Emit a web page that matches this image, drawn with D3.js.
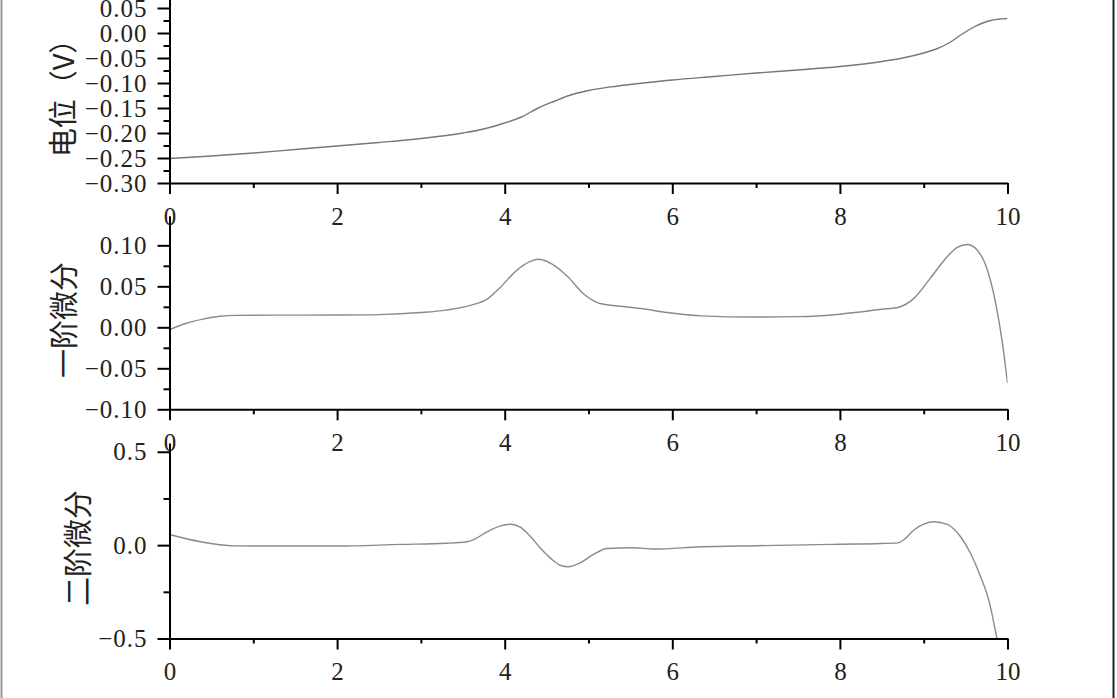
<!DOCTYPE html>
<html><head><meta charset="utf-8">
<script src="https://cdn.jsdelivr.net/npm/d3@7"></script>
<style>body{margin:0;background:#fff;} svg{display:block;}</style>
</head><body>
<svg id="c" width="1117" height="698"></svg>
<script>
// ---- data ----
const xMajorTicks = [0, 2, 4, 6, 8, 10];
const xMinorTicks = [1, 3, 5, 7, 9];

const potX = [0,0.5,1.0,1.5,2.0,2.5,3.0,3.5,3.75,4.0,4.2,4.4,4.6,4.75,5.0,5.35,6.0,6.5,7.0,7.5,8.0,8.5,8.75,9.0,9.15,9.3,9.45,9.6,9.8,10.0];
const potV = [-0.251,-0.246,-0.240,-0.233,-0.226,-0.219,-0.211,-0.200,-0.192,-0.180,-0.168,-0.150,-0.136,-0.126,-0.115,-0.106,-0.094,-0.087,-0.080,-0.074,-0.067,-0.057,-0.050,-0.040,-0.032,-0.020,-0.003,0.012,0.025,0.029];
const potMajor = [-0.30,-0.25,-0.20,-0.15,-0.10,-0.05,0.00,0.05];
const potMinor = [-0.275,-0.225,-0.175,-0.125,-0.075,-0.025,0.025];

const d1X = [0,0.2,0.4,0.6,0.8,1.2,2.0,2.5,3.0,3.3,3.6,3.8,3.95,4.15,4.3,4.4,4.55,4.75,4.94,5.14,5.35,5.62,5.94,6.34,7.0,7.5,8.0,8.5,8.7,8.88,9.08,9.28,9.4,9.52,9.64,9.76,9.86,9.94,10.0];
const d1V = [-0.003,0.005,0.010,0.0135,0.0145,0.0148,0.015,0.0155,0.018,0.021,0.027,0.035,0.049,0.070,0.080,0.083,0.078,0.062,0.041,0.029,0.026,0.023,0.018,0.014,0.0125,0.013,0.016,0.022,0.0245,0.035,0.060,0.086,0.0976,0.101,0.094,0.070,0.029,-0.0195,-0.068];
const d1Major = [-0.10,-0.05,0.00,0.05,0.10];
const d1Minor = [-0.075,-0.025,0.025,0.075];

const d2X = [0,0.37,0.77,1.1,2.0,2.76,3.3,3.55,3.63,3.79,3.95,4.07,4.19,4.31,4.43,4.55,4.67,4.76,4.9,5.06,5.22,5.54,5.78,6.34,7.0,8.0,8.49,8.69,8.78,8.88,9.0,9.12,9.28,9.44,9.56,9.68,9.78,9.87,9.95];
const d2V = [0.057,0.018,-0.004,-0.005,-0.005,0.004,0.010,0.018,0.030,0.071,0.103,0.112,0.095,0.045,-0.018,-0.071,-0.109,-0.116,-0.095,-0.05,-0.018,-0.014,-0.021,-0.009,-0.003,0.005,0.009,0.012,0.035,0.08,0.112,0.125,0.111,0.045,-0.045,-0.17,-0.30,-0.49,-0.66];
const d2Major = [-0.5,0.0,0.5];
const d2Minor = [-0.25,0.25];

const yLabels = ["电位（V）", "一阶微分", "二阶微分"];

// ---- drawing ----
const svg = d3.select("#c");
svg.append("rect").attr("width",1117).attr("height",698).attr("fill","#fff");

const x = d3.scaleLinear().domain([0,10]).range([169.5,1007.5]);

const panels = [
  {xs:potX, ys:potV, domain:[-0.30,0.075], range:[183,-4.5], major:potMajor, minor:potMinor, fmt:d3.format(".2f"), label:yLabels[0], lx:61, ly:91, col:"#777"},
  {xs:d1X, ys:d1V, domain:[-0.10,0.136], range:[409.3,215.8], major:d1Major, minor:d1Minor, fmt:d3.format(".2f"), label:yLabels[1], lx:62, ly:320, col:"#8a8a8a"},
  {xs:d2X, ys:d2V, domain:[-0.5,0.547], range:[638.5,443], major:d2Major, minor:d2Minor, fmt:d3.format(".1f"), label:yLabels[2], lx:76, ly:548, col:"#8a8a8a"}
];

const defs = svg.append("defs");

panels.forEach((p,i)=>{
  const y = d3.scaleLinear().domain(p.domain).range(p.range);
  const y0 = y(p.domain[0]);
  const g = svg.append("g");

  defs.append("clipPath").attr("id","clip"+i).append("rect")
    .attr("x",x(0)).attr("y",Math.min(...p.range)).attr("width",x(10)-x(0)).attr("height",Math.abs(p.range[0]-p.range[1])+1);

  const line = d3.line().x((d,j)=>x(p.xs[j])).y((d,j)=>y(p.ys[j])).curve(d3.curveMonotoneX);
  g.append("path").datum(p.ys).attr("d",line).attr("fill","none")
    .attr("stroke",p.col).attr("stroke-width",1.4).attr("clip-path","url(#clip"+i+")");

  // x axis
  const xa = g.append("g").attr("transform",`translate(0,${y0})`)
    .call(d3.axisBottom(x).tickValues(xMajorTicks).tickSize(11).tickPadding(13).tickSizeOuter(0).tickFormat(d3.format("d")));
  g.append("g").attr("transform",`translate(0,${y0})`)
    .call(d3.axisBottom(x).tickValues(xMinorTicks).tickSize(5).tickFormat("")).call(s=>s.select(".domain").remove());

  // y axis
  const ya = g.append("g").attr("transform",`translate(${x(0)},0)`)
    .call(d3.axisLeft(y).tickValues(p.major).tickSize(12).tickPadding(10).tickSizeOuter(0).tickFormat(p.fmt));
  g.append("g").attr("transform",`translate(${x(0)},0)`)
    .call(d3.axisLeft(y).tickValues(p.minor).tickSize(6).tickFormat("")).call(s=>s.select(".domain").remove());

  g.selectAll(".domain, .tick line").attr("stroke","#000").attr("stroke-width",2);
  xa.selectAll("text").attr("font-family","'Liberation Serif', serif").attr("font-size",25).attr("fill","#222");
  ya.selectAll("text").attr("font-family","'Liberation Serif', serif").attr("font-size",25).attr("fill","#222").attr("letter-spacing","1px");

  svg.append("text").attr("transform",`translate(${p.lx},${p.ly}) rotate(-90)`)
    .attr("text-anchor","middle").attr("dominant-baseline","central")
    .attr("font-family","Noto Sans CJK SC").attr("font-size",29).attr("fill","#222")
    .text(p.label);
});

// frame edges
svg.append("line").attr("x1",1.5).attr("x2",1.5).attr("y1",0).attr("y2",698).attr("stroke","#999").attr("stroke-width",2);
svg.append("line").attr("x1",1113.5).attr("x2",1113.5).attr("y1",0).attr("y2",698).attr("stroke","#222").attr("stroke-width",2);
</script>
</body></html>
